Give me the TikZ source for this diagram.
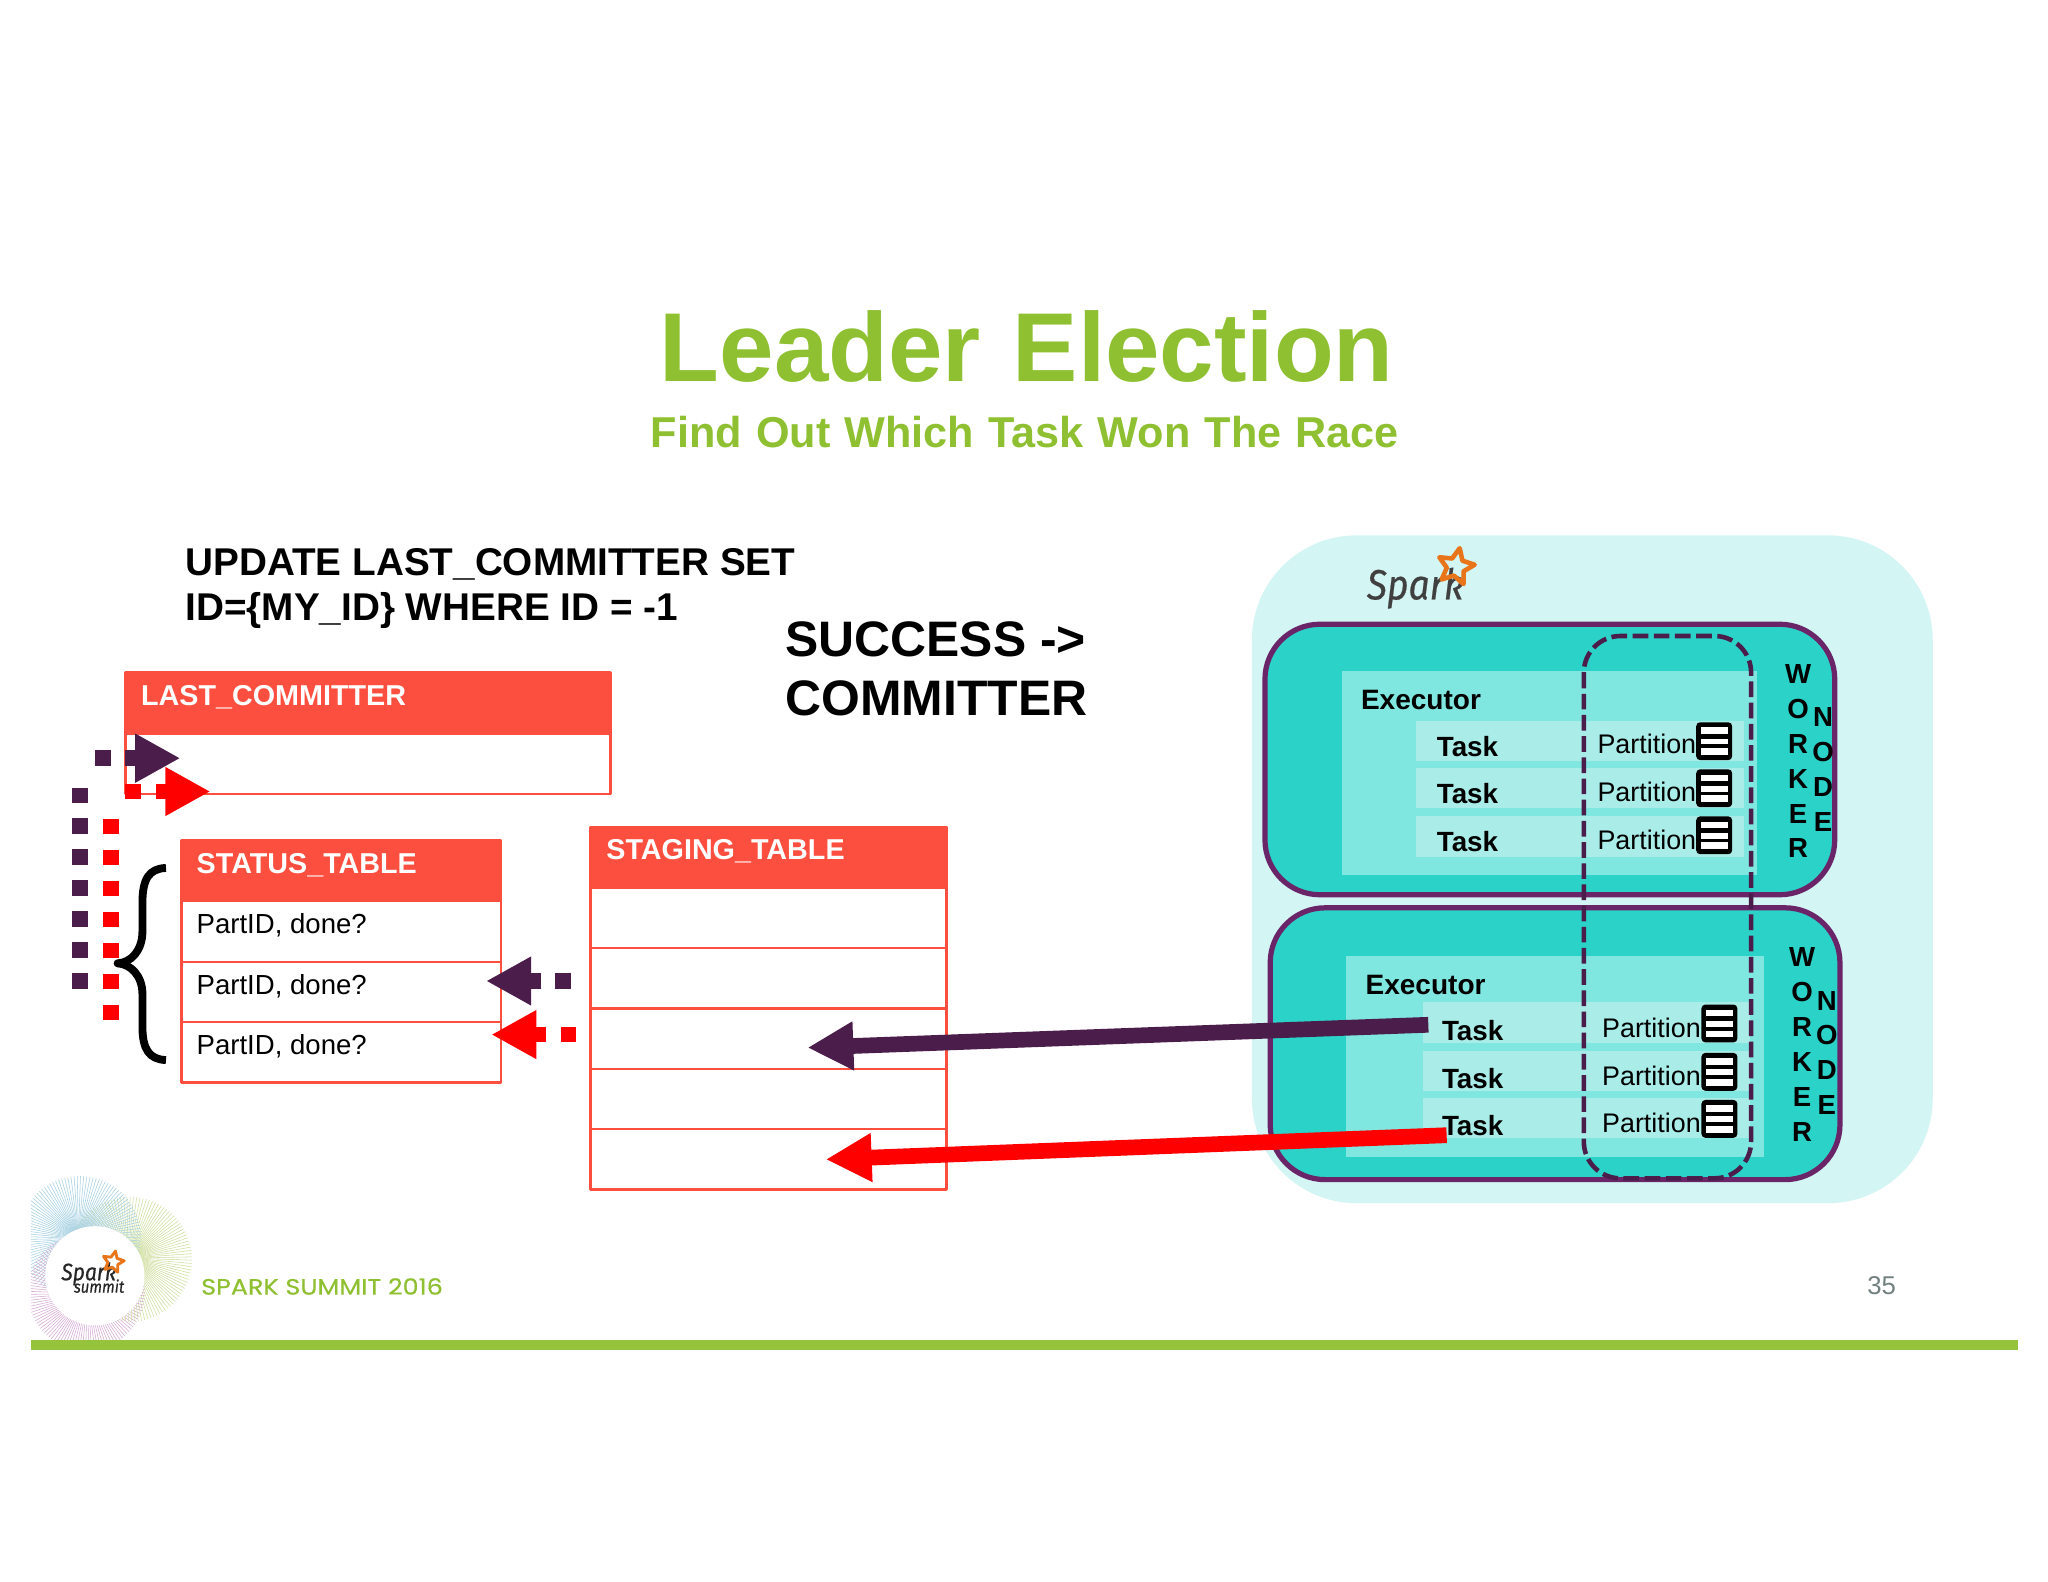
\documentclass[tikz,border=0pt]{standalone}
\usepackage{fontspec}
\setmainfont{Liberation Sans}
\newfontfamily\spacedfont[WordSpace=1.35]{Liberation Sans}
\newfontfamily\subfont[WordSpace=1.18]{Liberation Sans}
\newfontfamily\footfont[FakeStretch=1.14,FakeBold=0.35]{Poppins}
\newfontfamily\logofont[FakeStretch=0.88,FakeBold=0.5]{Fira Sans}
\usetikzlibrary{arrows.meta,positioning,shapes.geometric}
\definecolor{titlegreen}{HTML}{8FC031}
\definecolor{barred}{HTML}{FC4F3F}
\definecolor{plum}{HTML}{4B1D4B}
\definecolor{framepurple}{HTML}{6A2569}
\definecolor{hotred}{HTML}{FF0000}
\definecolor{clusterbg}{HTML}{D3F5F3}
\definecolor{workerbg}{HTML}{2BD2C8}
\definecolor{execbg}{HTML}{80E6E0}
\definecolor{taskbg}{HTML}{AAEDE8}
\definecolor{sparkorange}{HTML}{E8751A}
\newcommand{\fsz}[1]{\fontsize{#1}{#1}\selectfont}
\tikzset{
 lbl/.style={inner sep=0pt,outer sep=0pt,anchor=base west},
 thead/.style={fill=barred,draw=barred,line width=0.018cm,inner sep=0pt,outer sep=0pt,minimum height=0.465cm,anchor=north west},
 trow/.style={draw=barred,fill=white,line width=0.018cm,inner sep=0pt,outer sep=0pt,minimum height=0.462cm},
 headtxt/.style={lbl,text=white,font=\bfseries\fsz{6.25pt}{}},
 rowtxt/.style={lbl,font=\fsz{6pt}{}},
 worker/.style={fill=workerbg,draw=framepurple,line width=0.04cm,rounded corners=0.42cm},
 execbox/.style={fill=execbg,draw=none,inner sep=0pt,anchor=north west},
 taskbox/.style={fill=taskbg,draw=none,inner sep=0pt,anchor=north west,minimum height=0.312cm},
 exectxt/.style={lbl,font=\bfseries\fsz{6.1pt}{}},
 tasktxt/.style={lbl,font=\bfseries\fsz{6.05pt}{}},
 parttxt/.style={lbl,font=\fsz{5.85pt}{}},
 vertxt/.style={inner sep=0pt,anchor=north,align=center,font=\bfseries\fontsize{6pt}{7.6pt}\selectfont},
 dotline/.style={line width=0.12cm,dash pattern=on 0.12cm off 0.117cm},
 dotarrow/.style={line width=0.12cm,dash pattern=on 0.12cm off 0.11cm,-{Triangle[width=0.35cm,length=0.345cm]}},
 longarrow/.style={line width=0.12cm,-{Triangle[width=0.35cm,length=0.35cm]}},
 sparkstar/.style={star,star points=5,star point ratio=2.1,inner sep=0pt,draw=sparkorange,fill=none},
 stackicon/.pic={
  \fill[black,rounded corners=0.03cm] (0,0) rectangle (27.5,29);
  \fill[white] (3.5,4) rectangle (24,9);
  \fill[white] (3.5,12.5) rectangle (24,17);
  \fill[white] (3.5,20) rectangle (24,25);
 }
}
\begin{document}
\begin{tikzpicture}[x=0.01cm,y=-0.01cm,line join=round]
 \useasboundingbox (0,-0.7) rectangle (1567.2,1209.9);
 \fill[white] (0,-0.7) rectangle (1567.2,1209.9);

 \node[lbl,text=titlegreen,font=\spacedfont\bfseries\fsz{21.3pt}{}] (title) at (505,291.5) {Leader Election};
 \node[lbl,text=titlegreen,font=\subfont\bfseries\fsz{9.4pt}{}] (subtitle) at (498,342) {Find Out Which Task Won The Race};
 \node[lbl,font=\bfseries\fsz{8.42pt}{}] (sqlOne) at (142,439.5) {UPDATE LAST\_COMMITTER SET};
 \node[lbl,font=\bfseries\fsz{8.42pt}{}] (sqlTwo) at (142,474.5) {ID=\{MY\_ID\} WHERE ID = -1};
 \node[lbl,font=\bfseries\fsz{10.85pt}{}] (successOne) at (601,502) {SUCCESS ->};
 \node[lbl,font=\bfseries\fsz{10.85pt}{}] (successTwo) at (601,547) {COMMITTER};

 \node[thead,minimum width=3.71cm] (lastHead) at (96,514) {};
 \node[trow,minimum width=3.71cm,below=0pt of lastHead] (lastRow) {};
 \node[headtxt] (lastTxt) at (108,539.5) {LAST\_COMMITTER};

 \node[thead,minimum width=2.44cm] (statusHead) at (139,642.5) {};
 \node[trow,minimum width=2.44cm,below=0pt of statusHead] (statusRowA) {};
 \node[trow,minimum width=2.44cm,below=0pt of statusRowA] (statusRowB) {};
 \node[trow,minimum width=2.44cm,below=0pt of statusRowB] (statusRowC) {};
 \node[headtxt] (statusTxt) at (150.5,668) {STATUS\_TABLE};
 \node[rowtxt] (statusA) at (150.5,714) {PartID, done?};
 \node[rowtxt] (statusB) at (150.5,760) {PartID, done?};
 \node[rowtxt] (statusC) at (150.5,806) {PartID, done?};

 \node[thead,minimum width=2.72cm] (stageHead) at (452,632) {};
 \node[trow,minimum width=2.72cm,below=0pt of stageHead] (stageRowA) {};
 \node[trow,minimum width=2.72cm,below=0pt of stageRowA] (stageRowB) {};
 \node[trow,minimum width=2.72cm,below=0pt of stageRowB] (stageRowC) {};
 \node[trow,minimum width=2.72cm,below=0pt of stageRowC] (stageRowD) {};
 \node[trow,minimum width=2.72cm,below=0pt of stageRowD] (stageRowE) {};
 \node[headtxt] (stageTxt) at (464,657) {STAGING\_TABLE};

 \draw[black,line width=0.06cm] (127,663.5) .. controls (114,664) and (109,672) .. (109,690) -- (109,712) .. controls (109,727) and (100,736) .. (90,736.5) .. controls (100,737) and (109,746) .. (109,760) -- (109,785) .. controls (109,802) and (114,810) .. (127,810.5);

 \coordinate (plumColA) at (61,756);
 \coordinate (plumColB) at (61,602);
 \coordinate (redColA) at (85,780);
 \coordinate (redColB) at (85,625);
 \draw[dotline,plum] (plumColA) -- (plumColB);
 \draw[dotline,hotred] (redColA) -- (redColB);
 \coordinate (plumInA) at (73,579.5);
 \coordinate (plumInB) at (138,579.5);
 \coordinate (redInA) at (96,605);
 \coordinate (redInB) at (161,605);
 \draw[dotarrow,plum] (plumInA) -- (plumInB);
 \draw[dotarrow,hotred] (redInA) -- (redInB);
 \coordinate (plumOutA) at (437,750);
 \coordinate (plumOutB) at (372,750);
 \coordinate (redOutA) at (441,791);
 \coordinate (redOutB) at (376,791);
 \draw[dotarrow,plum] (plumOutA) -- (plumOutB);
 \draw[dotarrow,hotred] (redOutA) -- (redOutB);

 \fill[clusterbg,rounded corners=0.8cm] (958,409) rectangle (1479,920);
 \node[lbl,text=black!75,font=\logofont\itshape\fsz{9.2pt}{}] (sparkTxt) at (1046,458) {Spark};
 \node[sparkstar,line width=0.035cm,minimum size=0.29cm,rotate=-12] (sparkStar) at (1114,433) {};

 \draw[worker] (968,477) rectangle (1404,684);
 \node[execbox,minimum width=3.18cm,minimum height=1.56cm] (execA) at (1026,512) {};
 \node[taskbox,minimum width=2.51cm] (rowA) at (1083,550) {};
 \node[taskbox,minimum width=2.51cm] (rowB) at (1083,586) {};
 \node[taskbox,minimum width=2.51cm] (rowC) at (1083,623) {};
 \node[exectxt] (execTxtA) at (1041.5,542.5) {Executor};
 \node[tasktxt] (taskA) at (1099.5,578) {Task};
 \node[tasktxt] (taskB) at (1099.5,614.5) {Task};
 \node[tasktxt] (taskC) at (1099.5,651) {Task};
 \node[parttxt] (partA) at (1222.5,576) {Partition};
 \node[parttxt] (partB) at (1222.5,612.5) {Partition};
 \node[parttxt] (partC) at (1222.5,649) {Partition};
 \pic at (1298,552) {stackicon};
 \pic at (1298,588) {stackicon};
 \pic at (1298,624) {stackicon};
 \node[vertxt] (workerA) at (1376,507) {W\\O\\R\\K\\E\\R};
 \node[vertxt] (nodeA) at (1395,540) {N\\O\\D\\E};

 \draw[worker] (972,694) rectangle (1408,902);
 \node[execbox,minimum width=3.2cm,minimum height=1.54cm] (execB) at (1029,730) {};
 \node[taskbox,minimum width=2.5cm] (rowD) at (1088.5,765.5) {};
 \node[taskbox,minimum width=2.5cm] (rowE) at (1088.5,802.5) {};
 \node[taskbox,minimum width=2.5cm] (rowF) at (1088.5,838.5) {};
 \node[exectxt] (execTxtB) at (1045,760) {Executor};
 \node[tasktxt] (taskD) at (1103.5,795.5) {Task};
 \node[tasktxt] (taskE) at (1103.5,832) {Task};
 \node[tasktxt] (taskF) at (1103.5,868) {Task};
 \node[parttxt] (partD) at (1226,793.5) {Partition};
 \node[parttxt] (partE) at (1226,830) {Partition};
 \node[parttxt] (partF) at (1226,866) {Partition};
 \pic at (1302,768) {stackicon};
 \pic at (1302,805) {stackicon};
 \pic at (1302,841) {stackicon};
 \node[vertxt] (workerB) at (1379,724) {W\\O\\R\\K\\E\\R};
 \node[vertxt] (nodeB) at (1398,757) {N\\O\\D\\E};

 \draw[plum,line width=0.035cm,rounded corners=0.28cm,dash pattern=on 0.12cm off 0.042cm] (1212,486) rectangle (1340,901);

 \coordinate (plumFrom) at (1093,783.5);
 \coordinate (plumTo) at (618,801);
 \coordinate (redFrom) at (1107,868);
 \coordinate (redTo) at (632,886.5);
 \draw[longarrow,plum] (plumFrom) -- (plumTo);
 \draw[longarrow,hotred] (redFrom) -- (redTo);

 \begin{scope}
  \clip (23.7,890) rectangle (160,1024.5);
  \foreach \a in {0,3,...,357}{
   \draw[line width=0.12pt,cyan!55!gray!50] (61,946) ++(\a:3) -- ++(\a+20:44);
   \draw[line width=0.12pt,lime!50!gray!50] (99,963) ++(\a:3) -- ++(\a+20:45);
   \draw[line width=0.12pt,violet!55!white!60] (66,988) ++(\a:3) -- ++(\a+20:42);
  }
 \end{scope}
 \fill[white] (72.6,975.6) circle (38);
 \node[lbl,text=black!85,font=\logofont\itshape\fsz{5.2pt}{}] (sparkSmall) at (47,979) {Spark};
 \node[lbl,text=black!85,font=\logofont\itshape\fsz{3.7pt}{}] (summitSmall) at (56.5,988.5) {summit};
 \node[sparkstar,line width=0.022cm,minimum size=0.17cm,rotate=-12] (starSmall) at (86.6,965) {};

 \node[lbl,text=titlegreen,font=\footfont\fsz{4.85pt}{}] (summitTxt) at (154,990) {SPARK SUMMIT 2016};
 \node[lbl,text=gray!90!teal,font=\fsz{5.6pt}{}] (pageNum) at (1429,990) {35};
 \fill[titlegreen!95!white] (23.7,1024.5) rectangle (1544,1032.5);
\end{tikzpicture}
\end{document}
